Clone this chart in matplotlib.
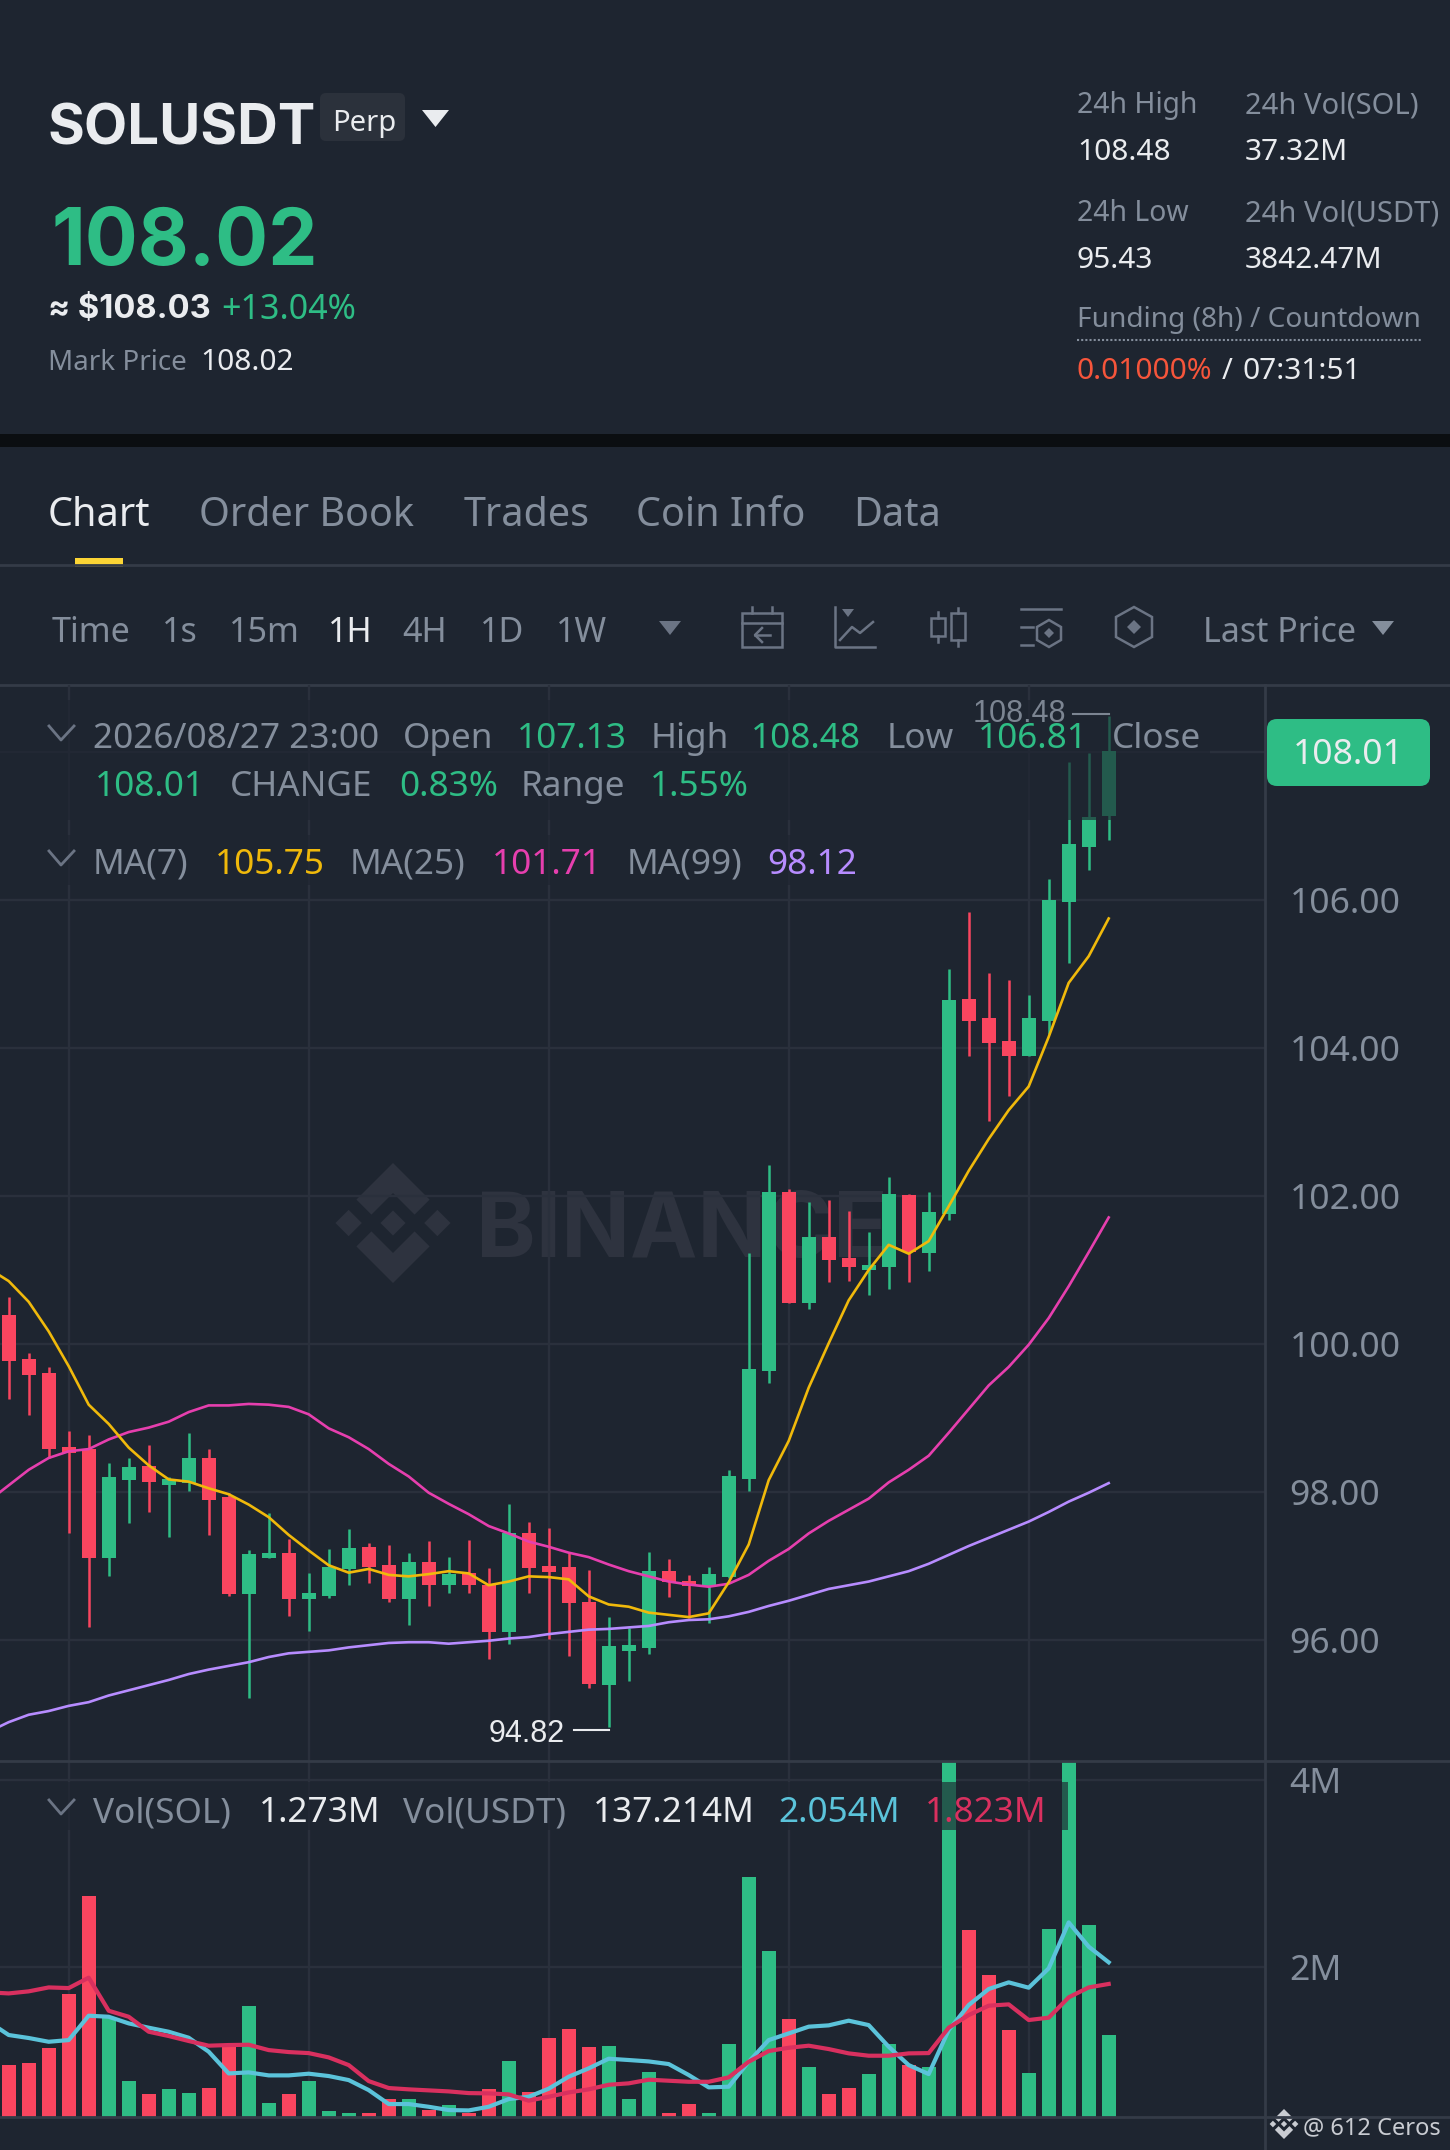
# SOLUSDT perp screen: 1h candles, moving averages and volume
import numpy as np
from matplotlib import pyplot as plt
from matplotlib.patches import FancyBboxPatch, Polygon, Rectangle

opens = [100.39, 99.80, 99.61, 98.61, 98.58, 97.11, 98.16, 98.35, 98.10, 98.12,
         98.46, 97.93, 96.62, 97.11, 97.18, 96.55, 96.59, 96.96, 97.26, 97.02,
         96.56, 97.05, 96.74, 96.90, 96.75, 96.11, 97.44, 97.00, 96.99, 96.52,
         95.39, 95.85, 95.89, 96.93, 96.80, 96.73, 96.85, 98.18, 99.63, 102.05,
         100.55, 101.44, 101.16, 101.00, 101.04, 102.02, 101.23, 101.75, 104.66, 104.40,
         104.10, 103.89, 104.37, 105.97, 106.72, 107.13]
closes = [99.77, 99.58, 98.58, 98.53, 97.11, 98.20, 98.34, 98.14, 98.17, 98.46,
          97.89, 96.62, 97.16, 97.18, 96.55, 96.63, 96.98, 97.25, 96.99, 96.56,
          97.06, 96.74, 96.89, 96.74, 96.11, 97.45, 96.97, 96.92, 96.50, 95.41,
          95.92, 95.93, 96.93, 96.79, 96.73, 96.89, 98.22, 99.66, 102.06, 100.55,
          101.45, 101.13, 101.04, 101.07, 102.03, 101.24, 101.78, 104.65, 104.37, 104.07,
          103.89, 104.41, 106.00, 106.75, 107.12, 108.01]
highs = [100.63, 99.88, 99.69, 98.82, 98.77, 98.39, 98.46, 98.64, 98.20, 98.80,
         98.58, 97.99, 97.22, 97.72, 97.37, 96.90, 97.23, 97.50, 97.31, 97.28,
         97.17, 97.34, 97.12, 97.35, 96.97, 97.84, 97.60, 97.52, 97.17, 96.94,
         96.31, 96.16, 97.19, 97.09, 96.88, 96.98, 98.30, 101.23, 102.42, 102.10,
         101.92, 101.94, 101.80, 101.51, 102.26, 102.03, 102.06, 105.07, 105.84, 105.01,
         104.92, 104.72, 106.29, 107.87, 107.98, 108.48]
lows = [99.26, 99.04, 98.46, 97.44, 96.18, 96.87, 97.58, 97.73, 97.39, 98.02,
        97.42, 96.59, 95.22, 97.11, 96.33, 96.12, 96.57, 96.74, 96.77, 96.51,
        96.20, 96.46, 96.63, 96.64, 95.74, 95.95, 96.63, 96.02, 95.79, 95.35,
        94.82, 95.44, 95.81, 96.58, 96.30, 96.23, 96.84, 98.01, 99.47, 100.55,
        100.47, 100.84, 100.85, 100.66, 100.74, 100.84, 100.99, 101.68, 103.89, 103.01,
        103.35, 103.89, 104.19, 105.15, 106.41, 106.81]

# moving averages start one candle left of the screen
ma7 = [101.02, 100.85, 100.57, 100.17, 99.70, 99.18, 98.92, 98.60, 98.36, 98.17,
       98.14, 98.05, 97.97, 97.83, 97.66, 97.42, 97.21, 97.01, 96.91, 96.96,
       96.88, 96.86, 96.89, 96.93, 96.90, 96.74, 96.79, 96.86, 96.85, 96.82,
       96.59, 96.48, 96.45, 96.37, 96.34, 96.31, 96.36, 96.78, 97.29, 98.16,
       98.69, 99.41, 100.01, 100.59, 101.00, 101.34, 101.22, 101.39, 101.86, 102.34,
       102.77, 103.16, 103.48, 104.15, 104.88, 105.24, 105.75]
ma25 = [97.88, 98.09, 98.30, 98.46, 98.55, 98.58, 98.71, 98.81, 98.87, 98.95,
        99.08, 99.17, 99.17, 99.19, 99.18, 99.15, 99.05, 98.86, 98.74, 98.58,
        98.38, 98.21, 97.99, 97.84, 97.70, 97.54, 97.44, 97.33, 97.26, 97.18,
        97.12, 97.02, 96.93, 96.86, 96.79, 96.75, 96.72, 96.76, 96.88, 97.07,
        97.23, 97.44, 97.61, 97.76, 97.91, 98.13, 98.30, 98.49, 98.80, 99.12,
        99.44, 99.69, 99.99, 100.35, 100.78, 101.24, 101.71]
ma99 = [94.76, 94.89, 94.99, 95.04, 95.11, 95.16, 95.25, 95.32, 95.39, 95.46,
        95.54, 95.60, 95.65, 95.70, 95.77, 95.82, 95.84, 95.86, 95.90, 95.93,
        95.96, 95.97, 95.97, 95.95, 95.97, 95.99, 96.02, 96.04, 96.08, 96.11,
        96.14, 96.15, 96.17, 96.19, 96.24, 96.27, 96.28, 96.32, 96.38, 96.46,
        96.53, 96.61, 96.69, 96.74, 96.79, 96.86, 96.93, 97.03, 97.15, 97.27,
        97.38, 97.49, 97.60, 97.73, 97.87, 97.99, 98.12]

volumes = [0.954, 0.975, 1.135, 1.712, 2.765, 1.473, 0.783, 0.651, 0.698, 0.662,
           0.708, 1.153, 1.584, 0.552, 0.651, 0.783, 0.463, 0.441, 0.441, 0.591,
           0.591, 0.473, 0.527, 0.441, 0.698, 0.996, 0.669, 1.242, 1.342, 1.153,
           1.164, 0.594, 0.883, 0.441, 0.541, 0.441, 1.178, 2.968, 2.171, 1.445,
           0.932, 0.648, 0.708, 0.861, 1.178, 0.957, 0.940, 4.6, 2.399, 1.915,
           1.327, 0.872, 2.406, 4.6, 2.448, 1.273]
vol_ma_blue = [1.420, 1.278, 1.246, 1.206, 1.224, 1.484, 1.473, 1.402, 1.356, 1.313,
               1.249, 1.100, 0.868, 0.879, 0.847, 0.847, 0.865, 0.840, 0.797, 0.690,
               0.541, 0.541, 0.512, 0.477, 0.473, 0.512, 0.594, 0.619, 0.705, 0.833,
               0.922, 1.025, 1.011, 0.996, 0.968, 0.851, 0.719, 0.726, 0.993, 1.224,
               1.295, 1.367, 1.381, 1.431, 1.384, 1.153, 0.957, 0.861, 1.331, 1.598,
               1.769, 1.840, 1.783, 1.989, 2.480, 2.221, 2.054]
vol_ma_red = [1.733, 1.722, 1.744, 1.786, 1.779, 1.890, 1.537, 1.473, 1.313, 1.267,
              1.214, 1.164, 1.171, 1.174, 1.117, 1.096, 1.085, 1.039, 0.957, 0.786,
              0.712, 0.698, 0.687, 0.676, 0.658, 0.655, 0.644, 0.577, 0.619, 0.665,
              0.698, 0.747, 0.762, 0.801, 0.790, 0.779, 0.779, 0.826, 0.993, 1.107,
              1.142, 1.164, 1.128, 1.082, 1.057, 1.057, 1.082, 1.085, 1.356, 1.491,
              1.591, 1.605, 1.438, 1.463, 1.680, 1.786, 1.823]

price_ticks = [96, 98, 100, 102, 104, 106, 108]
price_labels = ['96.00', '98.00', '100.00', '102.00', '104.00', '106.00', '']
vol_ticks = [2, 4]
vol_labels = ['2M', '4M']
time_ticks = [3, 15, 27, 39, 51]

BG = '#1e2530'
GREEN = '#2ebd85'
RED = '#f9455f'
GRAY = '#848e9c'
WHITE = '#eaecef'
GRID = '#2a303c'
LINE = '#343b47'
YELLOW = '#f0b90b'
PINK = '#e63fae'
PURPLE = '#b78cff'
BLUE = '#5bc3da'
CRIMSON = '#d9305f'

plt.rcParams['font.family'] = ['Noto Sans', 'DejaVu Sans']
W, H = 1450, 2150
fig = plt.figure(figsize=(14.5, 21.5), dpi=100, facecolor=BG)

# page furniture underneath, in pixel coordinates
ui = fig.add_axes([0, 0, 1, 1], zorder=0)
ui.set_xlim(0, W)
ui.set_ylim(H, 0)
ui.axis('off')


def logo(ax, cx, cy, r, color):
    top = [(0, 1), (.61, .39), (.36, .14), (0, .5), (-.36, .14), (-.61, .39)]
    for sgn in (1, -1):
        ax.add_patch(Polygon([(cx + a * r, cy - sgn * b * r) for a, b in top], color=color, lw=0))
    for dx, s in ((0, .21), (-.74, .22), (.74, .22)):
        pts = [(dx, s), (dx + s, 0), (dx, -s), (dx - s, 0)]
        ax.add_patch(Polygon([(cx + a * r, cy + b * r) for a, b in pts], color=color, lw=0))


ui.add_patch(Rectangle((0, 434), W, 13, color='#0b0e11', lw=0))
ui.plot([0, W], [565, 565], color=LINE, lw=2)
ui.add_patch(Rectangle((75, 558), 48, 9, color='#fcd535', lw=0))
ui.plot([0, W], [685, 685], color=LINE, lw=2)
logo(ui, 393, 1223, 60, '#2e333f')
ui.text(476, 1224, 'BINANCE', color='#2e333f', fontsize=65, fontweight='bold', va='center_baseline',
        family=['Inter'])

# price pane
x_left = (0 - 8.7) / 20.0
x_right = (1264.7 - 8.7) / 20.0
ax = fig.add_axes([0, (H - 1761) / H, 1264.7 / W, (1761 - 685) / H], zorder=1)
ax.patch.set_alpha(0)
ax.set_xlim(x_left, x_right)
ax.set_ylim(94.365, 108.905)
ax.grid(True, color=GRID, lw=1.7)
ax.set_axisbelow(True)
ax.set_xticks(time_ticks)
ax.set_yticks(price_ticks)
ax.set_yticklabels(price_labels, va='center_baseline')
ax.yaxis.tick_right()
ax.tick_params(length=0, labelbottom=False, labelcolor=GRAY, labelsize=25.5, pad=18)
for s in ax.spines.values():
    s.set_visible(False)

idx = np.arange(len(opens))
ma_idx = np.arange(-1, len(opens))
o = np.array(opens)
c = np.array(closes)
colors = [GREEN if b >= a else RED for a, b in zip(o, c)]
ax.vlines(idx, lows, highs, colors=colors, lw=1.8, zorder=3)
ax.bar(idx, np.abs(c - o), bottom=np.minimum(o, c), width=0.7, color=colors, zorder=3)
ax.plot(ma_idx, ma99, color=PURPLE, lw=1.9, zorder=4)
ax.plot(ma_idx, ma25, color=PINK, lw=1.9, zorder=4)
ax.plot(ma_idx, ma7, color=YELLOW, lw=1.9, zorder=4)

ax.plot([30 - 1.75, 30], [94.78, 94.78], color=WHITE, lw=1.5, zorder=5)
ax.text(30 - 2.2, 94.78, '94.82', color=WHITE, ha='right', va='center_baseline', fontsize=22,
        family=['Liberation Sans'], zorder=5)

# volume pane
vol_base = 0.406
vx = fig.add_axes([0, (H - 2116.7) / H, 1264.7 / W, (2116.7 - 1761) / H], zorder=1)
vx.patch.set_alpha(0)
vx.set_xlim(x_left, x_right)
vx.set_ylim(vol_base, 4.203)
vx.grid(True, color=GRID, lw=1.7)
vx.set_axisbelow(True)
vx.set_xticks(time_ticks)
vx.set_yticks(vol_ticks)
vx.set_yticklabels(vol_labels, va='center_baseline')
vx.yaxis.tick_right()
vx.tick_params(length=0, labelbottom=False, labelcolor=GRAY, labelsize=25.5, pad=18)
for s in vx.spines.values():
    s.set_visible(False)
vx.bar(idx, np.array(volumes) - vol_base, bottom=vol_base, width=0.7, color=colors, zorder=3)
vx.plot(ma_idx, vol_ma_blue, color=BLUE, lw=3, zorder=4)
vx.plot(ma_idx, vol_ma_red, color=CRIMSON, lw=3, zorder=4)

# texts and chrome on top
top = fig.add_axes([0, 0, 1, 1], zorder=3)
top.patch.set_alpha(0)
top.set_xlim(0, W)
top.set_ylim(H, 0)
top.axis('off')

top.plot([0, W], [1761, 1761], color=LINE, lw=2)
top.plot([0, W], [2116.7, 2116.7], color=LINE, lw=2)
top.plot([1264.7, 1264.7], [685, H], color=LINE, lw=2)

# the legend rows sit on half opaque boxes that dim the candles
top.add_patch(Rectangle((0, 700), 1210, 120, color=BG, alpha=0.65, lw=0))
top.add_patch(Rectangle((0, 835), 870, 50, color=BG, alpha=0.65, lw=0))
top.add_patch(Rectangle((0, 1782), 1068, 48, color=BG, alpha=0.65, lw=0))


def txt(x, y, s, color=GRAY, size=21, weight='normal', **kw):
    top.text(x, y, s, color=color, fontsize=size, fontweight=weight, va='center_baseline', **kw)


def tri(x0, x1, y0, y1, color):
    top.add_patch(Polygon([(x0, y0), (x1, y0), ((x0 + x1) / 2, y1)], color=color, lw=0))


def chevron(y):
    top.plot([49, 61, 74], [y - 8, y + 6, y - 8], color='#6b7484', lw=2)


txt(48, 124, 'SOLUSDT', WHITE, 40.5, 'bold', family=['Inter'])
top.add_patch(FancyBboxPatch((320, 93), 85, 48, boxstyle='round,pad=0,rounding_size=6', color='#2b313b', lw=0))
txt(332, 120, 'Perp', WHITE, 21)
tri(422, 449, 110, 127, WHITE)
txt(52, 236, '108.02', GREEN, 56.5, 'bold', family=['Inter'])
txt(48, 306, '≈ $108.03', WHITE, 23.5, 'bold', family=['Inter'])
txt(221, 306, '+13.04%', GREEN, 24.5)
txt(48, 359, 'Mark Price', GRAY, 20)
txt(200, 359, '108.02', WHITE, 21.5)

txt(1077, 102, '24h High', size=20.4)
txt(1245, 102, '24h Vol(SOL)')
txt(1077, 149, '108.48', WHITE, 21.5)
txt(1245, 149, '37.32M', WHITE, 21.5)
txt(1077, 210, '24h Low', size=20.4)
txt(1245, 210, '24h Vol(USDT)')
txt(1077, 257, '95.43', WHITE, 21.5)
txt(1245, 257, '3842.47M', WHITE, 21.5)
txt(1077, 317, 'Funding (8h) / Countdown', size=20.2)
top.plot([1077, 1421], [340, 340], color=GRAY, lw=1.5, ls=(0, (1, 1)))
txt(1077, 368, '0.01000%', '#f6553b', 21.5)
txt(1222, 368, '/', WHITE)
txt(1243, 368, '07:31:51', WHITE, 21.5)

for x, s, col, w in [(48, 'Chart', WHITE, 'medium'), (199, 'Order Book', GRAY, 'medium'),
                     (464, 'Trades', GRAY, 'medium'), (636, 'Coin Info', GRAY, 'medium'),
                     (853, 'Data', GRAY, 'medium')]:
    txt(x, 511, s, col, 28.5, w)

for x, s, col in [(52, 'Time', GRAY), (162, '1s', GRAY), (229, '15m', GRAY), (328, '1H', WHITE),
                  (402, '4H', GRAY), (480, '1D', GRAY), (556, '1W', GRAY), (1203, 'Last Price', GRAY)]:
    txt(x, 629, s, col, 24.5)
tri(659, 681, 621, 635, '#6b7484')
tri(1372, 1394, 621, 635, GRAY)

# toolbar icons
ic = '#6b7484'
ilw = 1.8
top.add_patch(Rectangle((742, 613), 40, 34, fill=False, ec=ic, lw=ilw))
top.plot([742, 782], [623, 623], color=ic, lw=ilw)
top.plot([752, 752], [607, 613], color=ic, lw=ilw)
top.plot([772, 772], [607, 613], color=ic, lw=ilw)
top.plot([770, 755], [635, 635], color=ic, lw=ilw)
top.plot([762, 755, 762], [628, 635, 642], color=ic, lw=ilw)
top.plot([835, 835, 875], [607, 647, 647], color=ic, lw=ilw)
top.plot([840, 852, 860, 873], [640, 627, 633, 622], color=ic, lw=ilw)
tri(842, 854, 609, 617, ic)
top.add_patch(Rectangle((931, 618), 14, 18, fill=False, ec=ic, lw=ilw))
top.add_patch(Rectangle((951, 613), 14, 27, fill=False, ec=ic, lw=ilw))
top.plot([938, 938], [612, 618], color=ic, lw=ilw)
top.plot([938, 938], [636, 642], color=ic, lw=ilw)
top.plot([958, 958], [608, 613], color=ic, lw=ilw)
top.plot([958, 958], [640, 646], color=ic, lw=ilw)
top.plot([1021, 1061], [609, 609], color=ic, lw=ilw)
top.plot([1021, 1033], [627, 627], color=ic, lw=ilw)
top.plot([1021, 1033], [645, 645], color=ic, lw=ilw)
top.add_patch(Polygon([(1049, 620), (1061, 627), (1061, 640), (1049, 647), (1037, 640), (1037, 627)],
                      fill=False, ec=ic, lw=ilw))
top.add_patch(Polygon([(1049, 628), (1054, 633), (1049, 638), (1044, 633)], color=ic, lw=0))
top.add_patch(Polygon([(1134, 607), (1152, 617), (1152, 637), (1134, 647), (1116, 637), (1116, 617)],
                      fill=False, ec=ic, lw=ilw))
top.add_patch(Polygon([(1134, 620), (1141, 627), (1134, 634), (1127, 627)], color=ic, lw=0))

# OHLC legend
LS = 25.3
chevron(734)
txt(93, 734.5, '2026/08/27 23:00', size=LS)
txt(403, 734.5, 'Open', size=LS)
txt(517, 734.5, '107.13', GREEN, LS)
txt(651, 734.5, 'High', size=LS)
txt(751, 734.5, '108.48', GREEN, LS)
txt(887, 734.5, 'Low', size=LS)
txt(978, 734.5, '106.81', GREEN, LS)
txt(1112, 734.5, 'Close', size=LS)
txt(95, 783, '108.01', GREEN, LS)
txt(230, 783, 'CHANGE', size=LS)
txt(399, 783, '0.83%', GREEN, LS)
txt(521, 783, 'Range', size=LS)
txt(650, 783, '1.55%', GREEN, LS)
chevron(859)
txt(93, 860.5, 'MA(7)', size=LS)
txt(215, 860.5, '105.75', YELLOW, LS)
txt(350, 860.5, 'MA(25)', size=LS)
txt(492, 860.5, '101.71', PINK, LS)
txt(627, 860.5, 'MA(99)', size=LS)
txt(767, 860.5, '98.12', PURPLE, LS)
chevron(1808)
txt(93, 1809, 'Vol(SOL)', size=LS)
txt(259, 1809, '1.273M', WHITE, LS)
txt(403, 1809, 'Vol(USDT)', size=LS)
txt(593, 1809, '137.214M', WHITE, LS)
txt(778, 1809, '2.054M', BLUE, LS)
txt(925, 1809, '1.823M', CRIMSON, LS)

# last price high label, dimmed by the legend box
txt(973, 710, '108.48', '#7c8592', 22, family=['Liberation Sans'])
top.plot([1073, 1108.7], [714, 714], color='#7c8592', lw=1.5)

top.add_patch(FancyBboxPatch((1267, 719), 163, 67, boxstyle='round,pad=0,rounding_size=10', color=GREEN, lw=0))
top.text(1348, 751, closes[-1], color=WHITE, fontsize=25.5, ha='center', va='center_baseline')

logo(top, 1284, 2124, 15, '#c9ccd2')
txt(1303, 2125, '@ 612 Ceros', '#c9ccd2', 17)

fig.savefig('out.png', dpi=100, facecolor=BG)
